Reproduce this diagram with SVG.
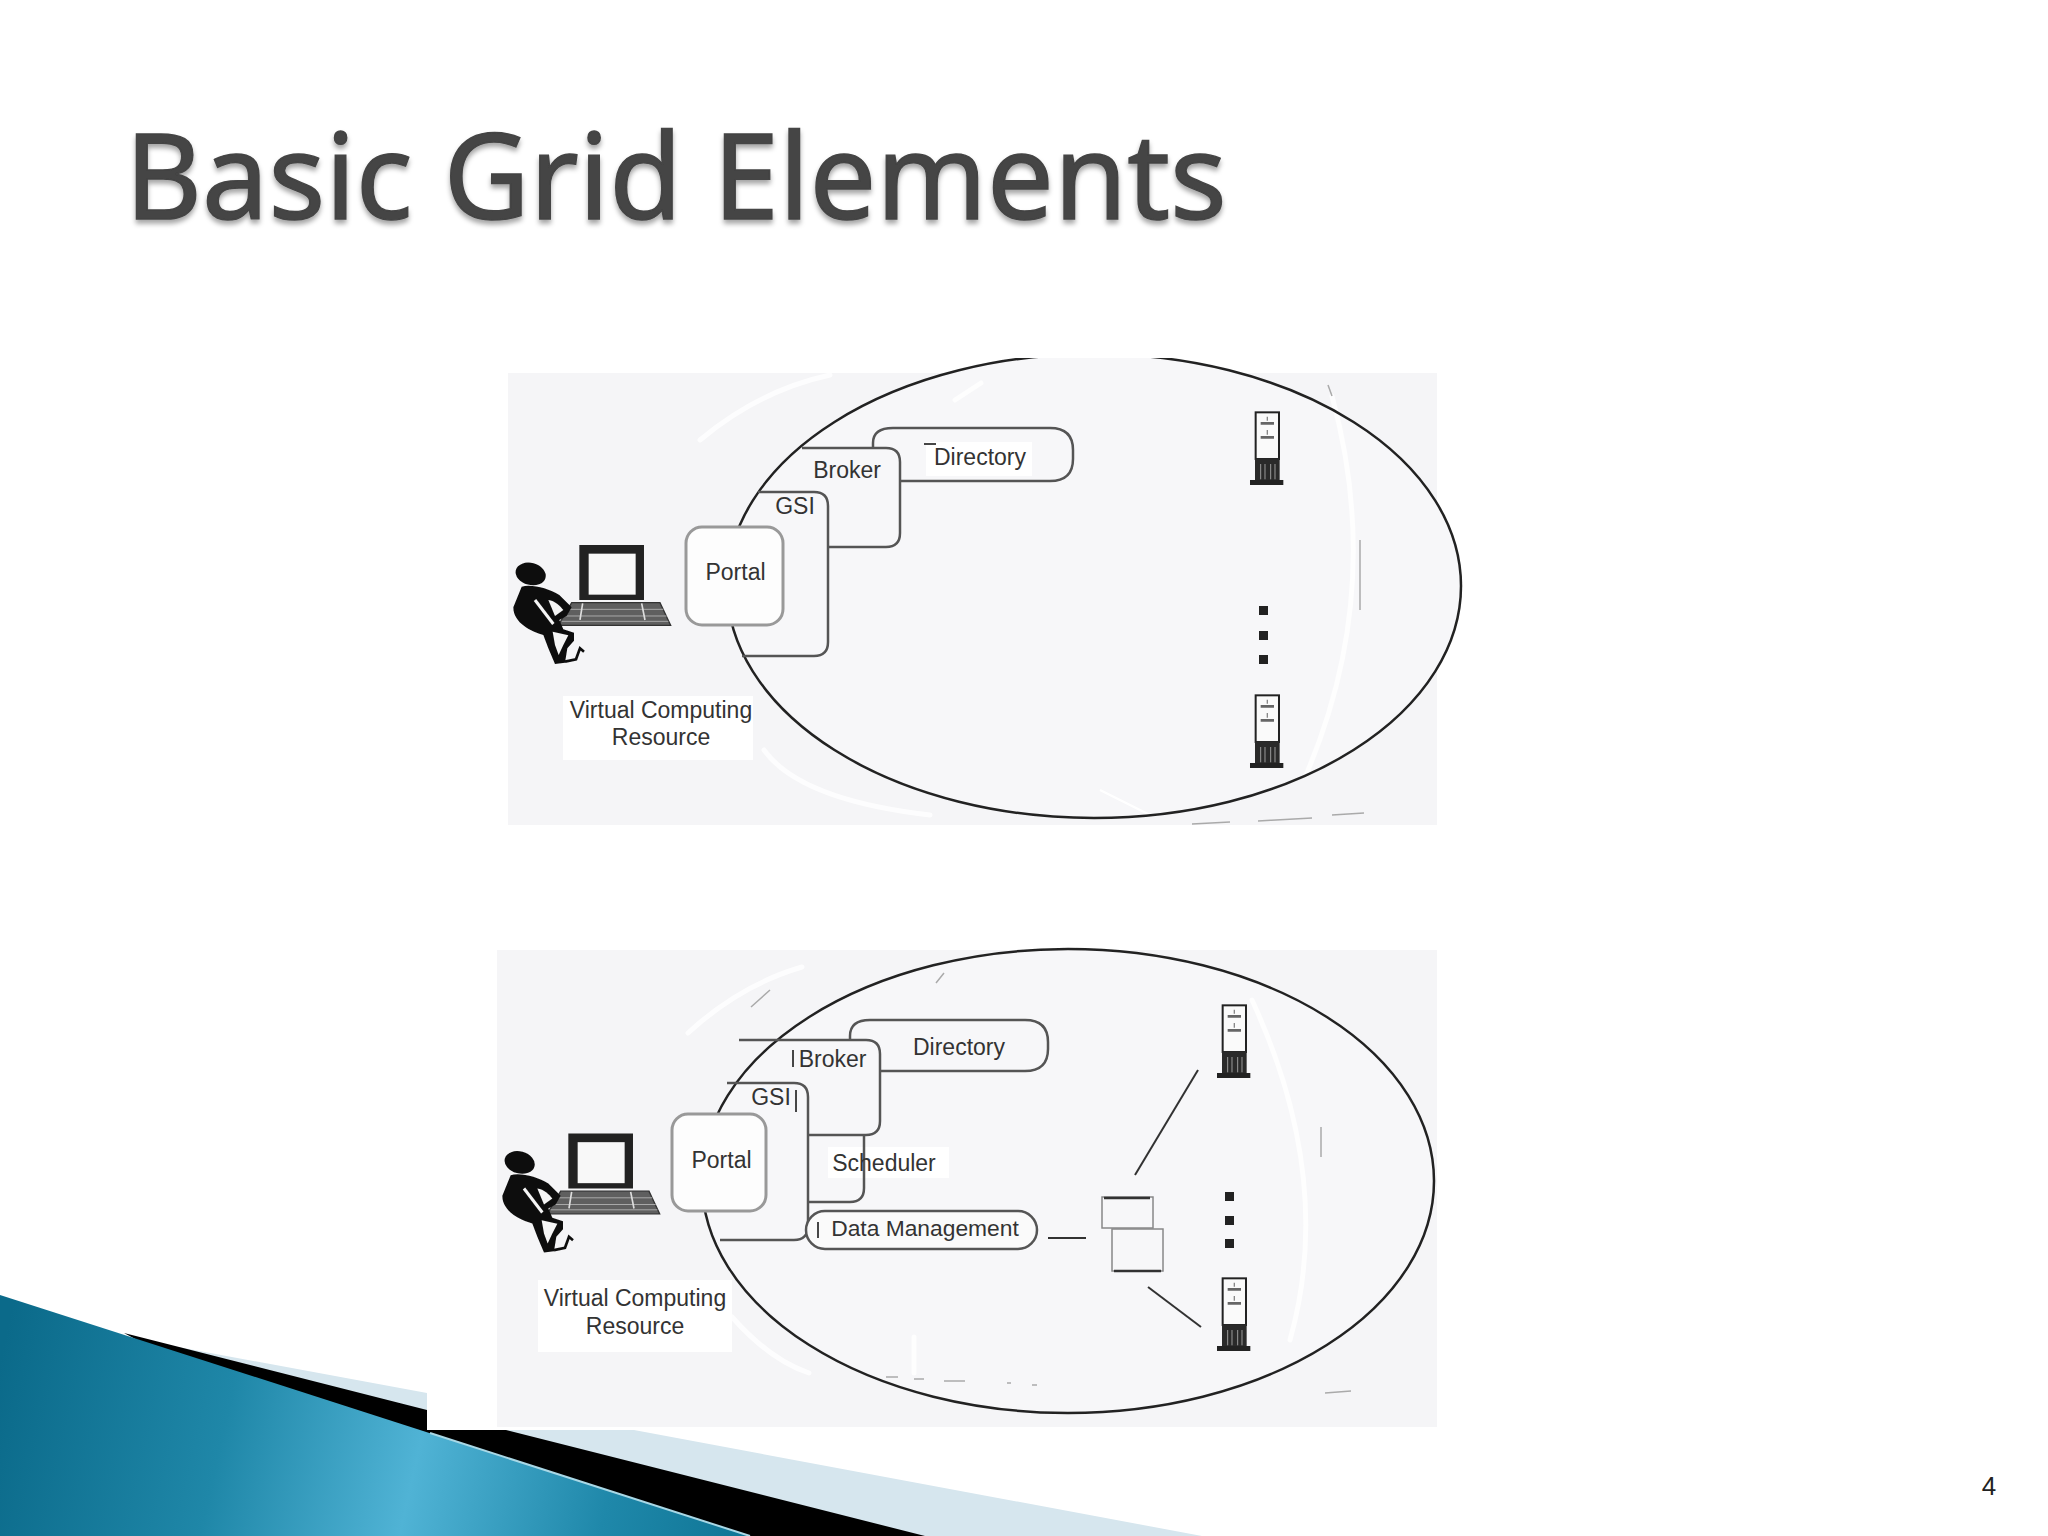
<svg xmlns="http://www.w3.org/2000/svg" width="2048" height="1536" viewBox="0 0 2048 1536">
<style>
.lbl{font-family:"Liberation Sans",Arial,sans-serif;font-size:23px;fill:#333;text-anchor:middle}
.panel{fill:#f5f5f7}
.ofill{fill:#f7f7f9}
.oval{fill:none;stroke:#222;stroke-width:2.5}
.box{fill:none;stroke:#555;stroke-width:2.5}
.portal{fill:#fdfdfd;stroke:#999;stroke-width:3}
.scr{fill:none;stroke:#fff;stroke-width:5;stroke-linecap:round;opacity:.8}
.thin{fill:none;stroke:#fff;stroke-width:2.5}
.bar{stroke:#333;stroke-width:1.8;fill:none}
.dash{stroke:#aaa;stroke-width:1.5;fill:none}
.dot{fill:#222}
.link{stroke:#333;stroke-width:2;fill:none}
</style>
<defs>
<filter id="soft" x="-5%" y="-5%" width="110%" height="110%"><feGaussianBlur stdDeviation="0.7"/></filter>
<filter id="shadow" x="-5%" y="-20%" width="110%" height="150%"><feDropShadow dx="0" dy="4" stdDeviation="2.5" flood-color="#000" flood-opacity="0.35"/></filter>
<linearGradient id="teal" gradientUnits="userSpaceOnUse" x1="0" y1="1360" x2="760" y2="1530">
<stop offset="0" stop-color="#0b6a8a"/><stop offset="0.3" stop-color="#1f87a8"/><stop offset="0.55" stop-color="#50b3d5"/><stop offset="0.8" stop-color="#1f88aa"/><stop offset="1" stop-color="#0e7494"/>
</linearGradient>
<g id="user" transform="translate(500,520) scale(0.3333)">
<rect x="238" y="75" width="194" height="165" fill="#222"/>
<rect x="266" y="101" width="141" height="123" fill="#f8f8f8"/>
<polygon points="215,248 480,248 512,316 175,316" fill="#5e5e5e" stroke="#333" stroke-width="4"/>
<path d="M205,268H490M195,288H500M185,304H505" stroke="#aaa" stroke-width="3" fill="none"/>
<path d="M248,250L240,300M425,250L435,300" stroke="#ddd" stroke-width="5" fill="none"/>
<ellipse cx="92" cy="162" rx="46" ry="33" transform="rotate(15 92 162)" fill="#111"/>
<path d="M65,200C95,192 145,205 178,225L215,262L200,288L178,300L190,328L222,338L222,362L202,385L195,428L165,432L145,385L130,345C95,335 40,310 40,262Z" fill="#111"/>
<path d="M105,240L160,312" stroke="#f5f5f5" stroke-width="9" fill="none"/>
<path d="M145,240C165,242 180,258 190,270L165,288Z" fill="#f5f5f5"/>
<path d="M158,335L205,346L190,375L176,405L165,375Z" fill="#f5f5f5"/>
<path d="M195,425L228,418L240,385L252,395" stroke="#111" stroke-width="8" fill="none"/>
</g>
<g id="srv" transform="translate(1220,400) scale(0.3333)">
<rect x="107" y="37" width="70" height="140" fill="#fafafa" stroke="#222" stroke-width="6"/>
<path d="M122,70H162M122,112H162" stroke="#666" stroke-width="8"/>
<path d="M142,50V62M142,90V104" stroke="#888" stroke-width="4"/>
<rect x="105" y="175" width="74" height="68" fill="#2b2b2b"/>
<path d="M122,192V238M135,192V238M152,192V238M165,192V238" stroke="#999" stroke-width="3"/>
<rect x="90" y="240" width="100" height="15" fill="#222"/>
</g>
</defs>

<rect width="2048" height="1536" fill="#fff"/>

<g id="title"><text x="125" y="219" font-family="'Noto Sans',sans-serif" font-size="118.5" fill="#444" stroke="#444" stroke-width="1.5" filter="url(#shadow)">Basic Grid Elements</text></g>

<g id="corner">
<polygon points="178,1347 427,1393 427,1430 634,1430 1202,1536 300,1536" fill="#d6e6ee"/>
<polygon points="124,1333 427,1410 427,1430 506,1430 925,1536 500,1536" fill="#000"/>
<polygon points="0,1295 750,1536 0,1536" fill="url(#teal)"/>
<path d="M430,1433L750,1536" stroke="#a9d8e6" stroke-width="2"/>
</g>

<g id="panel-top">
<g filter="url(#soft)">
<rect class="panel" x="508" y="373" width="929" height="452"/>
<ellipse class="ofill" cx="1094" cy="586" rx="367" ry="232"/>
<rect x="563" y="696" width="190" height="64" fill="#fff"/>
<path class="scr" d="M700,440Q760,390 830,375"/>
<path class="scr" d="M955,400L981,383"/>
<path class="scr" d="M1332,396Q1385,590 1306,775"/>
<path class="scr" d="M764,750Q800,800 930,815"/>
<path class="thin" d="M1100,790L1150,815"/>
<path class="dash" d="M1332,396L1328,385M1360,540V610"/>
<path class="dash" d="M1192,824L1230,822M1258,821L1312,818M1332,815L1364,813"/>
<rect x="926" y="442" width="106" height="34" fill="#fff"/>
<ellipse class="oval" cx="1094" cy="586" rx="367" ry="232"/>
<rect x="1000" y="340" width="190" height="18" fill="#fff"/>
</g>
<g id="t-directory" filter="url(#soft)"><path class="box" d="M873,448V443Q873,428 893,428H1050Q1073,428 1073,450V459Q1073,481 1050,481H900"/><path class="bar" d="M924,444H936"/></g>
<g id="t-broker" filter="url(#soft)"><path class="box" d="M802,448H886Q900,448 900,462V533Q900,547 886,547H828"/></g>
<g id="t-gsi" filter="url(#soft)"><path class="box" d="M758,492H814Q828,492 828,506V642Q828,656 814,656H742"/></g>
<g id="t-portal" filter="url(#soft)"><rect class="portal" x="686" y="527" width="97" height="98" rx="16"/></g>
<text class="lbl" x="735.5" y="580">Portal</text>
<text class="lbl" x="980" y="465">Directory</text>
<text class="lbl" x="847" y="478">Broker</text>
<text class="lbl" x="795" y="514">GSI</text>
<text class="lbl" x="661" y="718">Virtual Computing</text>
<text class="lbl" x="661" y="745">Resource</text>
<g id="t-user" filter="url(#soft)"><use href="#user"/></g>
<g id="t-srv1" filter="url(#soft)"><use href="#srv"/></g>
<g id="t-srv2" filter="url(#soft)"><use href="#srv" y="283"/></g>
<g id="t-dots" filter="url(#soft)"><rect class="dot" x="1259" y="606" width="9" height="9"/><rect class="dot" x="1259" y="631" width="9" height="9"/><rect class="dot" x="1259" y="655" width="9" height="9"/></g>
</g>

<g id="panel-bottom">
<g filter="url(#soft)">
<rect class="panel" x="497" y="950" width="940" height="477"/>
<ellipse class="ofill" cx="1068" cy="1181" rx="366" ry="232"/>
<rect x="538" y="1280" width="194" height="72" fill="#fff"/>
<rect x="828" y="1147" width="121" height="31" fill="#fff"/>
<path class="scr" d="M688,1033Q740,985 802,967"/>
<path class="scr" d="M1252,1000Q1335,1180 1290,1340"/>
<path class="scr" d="M732,1317Q770,1360 809,1373"/>
<path class="scr" d="M914,1337V1373"/>
<path class="dash" d="M751,1007L770,990M936,983L944,973M1321,1127V1157"/>
<path class="dash" d="M886,1377H898M914,1379H924M944,1381H965M1007,1383H1011M1032,1385H1037M1325,1393L1351,1391"/>
<ellipse class="oval" cx="1068" cy="1181" rx="366" ry="232"/>
</g>
<g id="b-directory" filter="url(#soft)"><path class="box" d="M850,1040V1036Q850,1020 870,1020H1025Q1048,1020 1048,1042V1049Q1048,1071 1025,1071H880"/></g>
<g id="b-broker" filter="url(#soft)"><path class="box" d="M739,1040H866Q880,1040 880,1054V1121Q880,1135 866,1135H809"/><path class="bar" d="M793,1050V1067"/></g>
<g id="b-scheduler" filter="url(#soft)"><path class="box" d="M864,1135V1188Q864,1202 850,1202H809"/></g>
<g id="b-gsi" filter="url(#soft)"><path class="box" d="M727,1083H794Q808,1083 808,1097V1226Q808,1240 794,1240H720"/><path class="bar" d="M796,1090V1112"/></g>
<g id="b-portal" filter="url(#soft)"><rect class="portal" x="672" y="1114" width="94" height="97" rx="16"/></g>
<g id="b-data" filter="url(#soft)"><rect x="806" y="1211" width="231" height="38" rx="19" fill="#fafafa" stroke="#555" stroke-width="2.5"/><path class="bar" d="M818,1222V1238"/></g>
<g id="b-store" filter="url(#soft)">
<rect x="1102" y="1197" width="51" height="31" fill="#f7f7f9" stroke="#888" stroke-width="1.5"/>
<path d="M1104,1198H1150" stroke="#333" stroke-width="2.5"/>
<rect x="1112" y="1229" width="51" height="42" fill="#f7f7f9" stroke="#888" stroke-width="1.5"/>
<path d="M1114,1271H1161" stroke="#333" stroke-width="2.5"/>
</g>
<g id="connectors" filter="url(#soft)">
<path class="link" d="M1198,1070L1135,1175"/>
<path class="link" d="M1148,1287L1201,1327"/>
<path class="link" d="M1048,1238H1086"/>
</g>
<text class="lbl" x="721.5" y="1168">Portal</text>
<text class="lbl" x="959" y="1055">Directory</text>
<text class="lbl" x="832.5" y="1067">Broker</text>
<text class="lbl" x="771" y="1105">GSI</text>
<text class="lbl" x="884" y="1171">Scheduler</text>
<text class="lbl" x="925" y="1236" style="font-size:22.8px">Data Management</text>
<text class="lbl" x="635" y="1306">Virtual Computing</text>
<text class="lbl" x="635" y="1334">Resource</text>
<g id="b-user" filter="url(#soft)"><use href="#user" x="-11" y="588.5"/></g>
<g id="b-srv1" filter="url(#soft)"><use href="#srv" x="-33" y="593"/></g>
<g id="b-srv2" filter="url(#soft)"><use href="#srv" x="-33" y="866"/></g>
<g id="b-dots" filter="url(#soft)"><rect class="dot" x="1225" y="1192" width="9" height="9"/><rect class="dot" x="1225" y="1216" width="9" height="9"/><rect class="dot" x="1225" y="1239" width="9" height="9"/></g>
</g>

<text id="page" x="1989" y="1495" font-family="'Liberation Sans',sans-serif" font-size="26" fill="#222" text-anchor="middle">4</text>
</svg>
